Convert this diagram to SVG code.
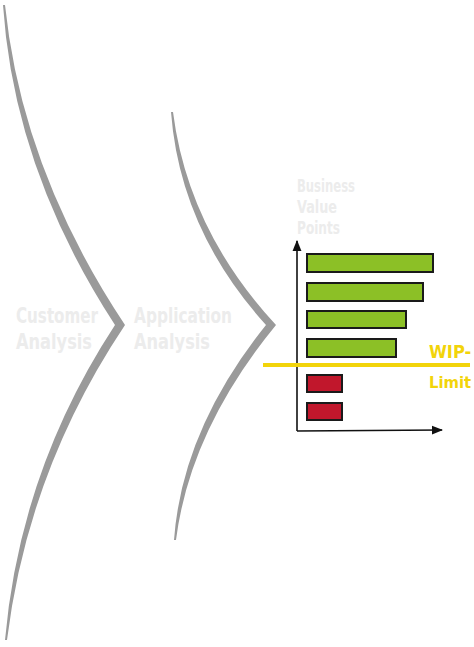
<svg xmlns="http://www.w3.org/2000/svg" width="474" height="647" viewBox="0 0 474 647">
<defs>
<style>
.chev{fill:#9a9a9a}
.ghost{fill:#ececec;font-family:"DejaVu Sans Condensed","DejaVu Sans",sans-serif;font-weight:bold}
.axis{stroke:#111;stroke-width:1.6;fill:none}
.g{fill:#8cc026;stroke:#1a1a1a;stroke-width:2}
.r{fill:#c1172c;stroke:#1a1a1a;stroke-width:2}
.wip{fill:#f2d40a;font-family:"DejaVu Sans Condensed","DejaVu Sans",sans-serif;font-weight:bold;font-size:18px}
</style>
<marker id="ah" viewBox="0 0 10 10" refX="9" refY="5" markerWidth="7" markerHeight="7" orient="auto"><path d="M0,1 L10,5 L0,9 Z" fill="#111"/></marker>
</defs>
<rect width="474" height="647" fill="#fff"/>
<g id="chevron-customer">
<path class="chev" d="M5,5 Q22,170 125,325 Q28,470 7,640 L5,640 Q20,470 115,325 Q14,170 3,5 Z"/>
<text class="ghost" font-size="22" x="16" y="323" textLength="82" lengthAdjust="spacingAndGlyphs">Customer</text>
<text class="ghost" font-size="22" x="16" y="349" textLength="76" lengthAdjust="spacingAndGlyphs">Analysis</text>
</g>
<g id="chevron-application">
<path class="chev" d="M173,112 Q188,230 276,325 Q190,430 176,540 L174,540 Q182,430 266,325 Q180,230 171,112 Z"/>
<text class="ghost" font-size="22" x="134" y="323" textLength="98" lengthAdjust="spacingAndGlyphs">Application</text>
<text class="ghost" font-size="22" x="134" y="349" textLength="76" lengthAdjust="spacingAndGlyphs">Analysis</text>
</g>
<g id="chart">
<text class="ghost" font-size="17" x="297" y="192" textLength="58" lengthAdjust="spacingAndGlyphs">Business</text>
<text class="ghost" font-size="17" x="297" y="213" textLength="40" lengthAdjust="spacingAndGlyphs">Value</text>
<text class="ghost" font-size="17" x="297" y="234" textLength="43" lengthAdjust="spacingAndGlyphs">Points</text>
<g id="connectors">
<path class="axis" d="M297,431 L297,241" marker-end="url(#ah)"/>
<path class="axis" d="M297,431 L442,430" marker-end="url(#ah)"/>
</g>
<rect class="g" x="307" y="254" width="126" height="18"/>
<rect class="g" x="307" y="283" width="116" height="18"/>
<rect class="g" x="307" y="311" width="99" height="17"/>
<rect class="g" x="307" y="339" width="89" height="18"/>
<rect class="r" x="307" y="375" width="35" height="17"/>
<rect class="r" x="307" y="403" width="35" height="17"/>
</g>
<g id="wip-limit">
<line x1="263" y1="365" x2="470" y2="365" stroke="#f2d40a" stroke-width="4"/>
<text class="wip" x="429" y="358">WIP-</text>
<text class="wip" x="429" y="388" style="font-size:16.5px">Limit</text>
</g>
</svg>
